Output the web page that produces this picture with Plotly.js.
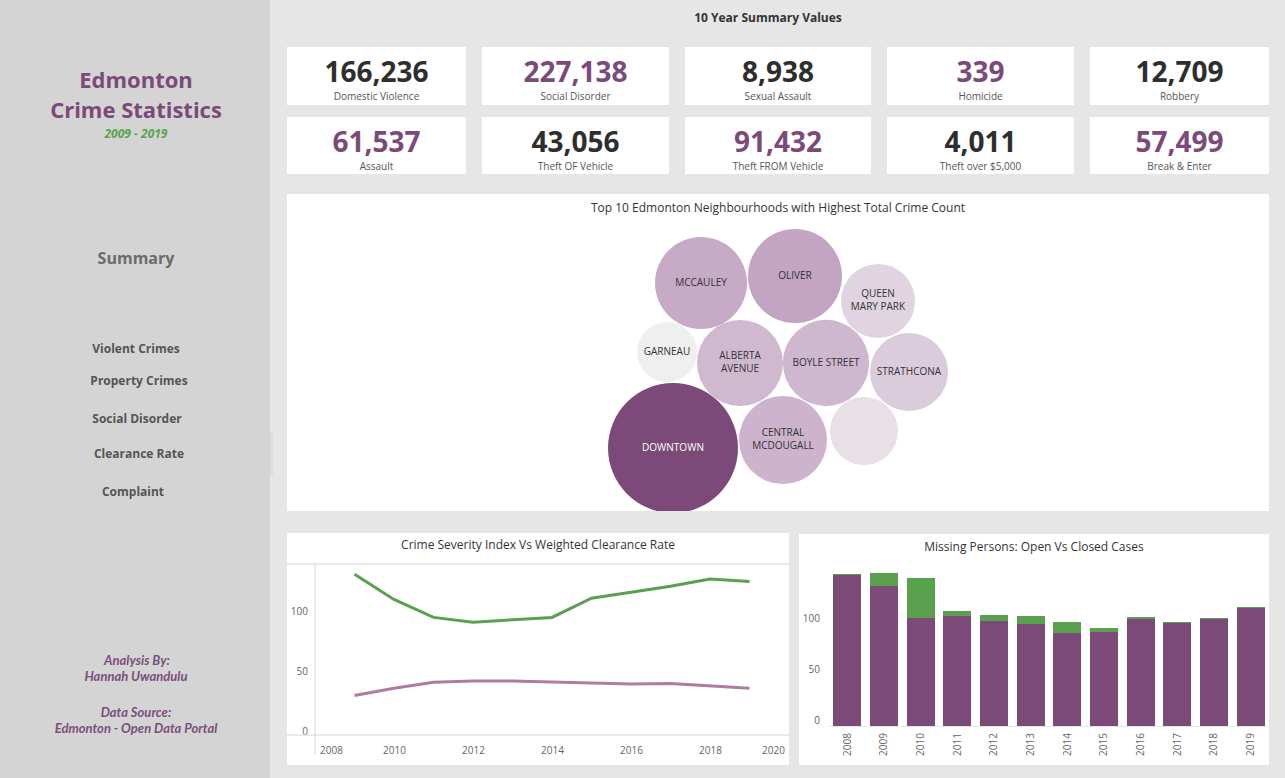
<!DOCTYPE html>
<html><head><meta charset="utf-8">
<script src="https://cdn.plot.ly/plotly-3.0.1.min.js"></script>
<style>
body{margin:0;width:1285px;height:778px;overflow:hidden;background:#e6e6e6;font-family:'Open Sans',sans-serif;position:relative}
#sidebar{position:absolute;left:0;top:0;width:270px;height:778px;background:#d4d4d4}
#tab{position:absolute;left:270px;top:433px;width:3px;height:42px;background:#dcdcdc}
.t{position:absolute;white-space:nowrap;transform:translateX(-50%)}
.card{position:absolute;background:#fff}
.num{position:absolute;left:0;right:0;text-align:center;font-weight:700;font-size:28px;line-height:28px;top:10px}
.lab{position:absolute;left:0;right:0;text-align:center;font-size:10px;line-height:10px;top:44px;color:#555}
.panel{position:absolute;background:#fff}
.cr{font-family:Lato;font-size:13px;line-height:13px;font-style:italic;font-weight:700;color:#7b4f7b}
</style></head>
<body>
<div id="sidebar"></div>
<div id="tab"></div>
<div class="t" style="left:136px;top:68px;font-size:22px;line-height:22px;font-weight:700;color:#7b4a78">Edmonton</div>
<div class="t" style="left:136px;top:98px;font-size:22px;line-height:22px;font-weight:700;color:#7b4a78">Crime Statistics</div>
<div class="t" style="left:136px;top:128px;font-size:12px;line-height:12px;font-weight:700;font-style:italic;color:#5aa14f">2009 - 2019</div>
<div class="t" style="left:136px;top:250px;font-size:16px;line-height:16px;font-weight:700;color:#6b6b6b">Summary</div>
<div class="t" style="left:136px;top:343px;font-size:12px;line-height:12px;font-weight:700;color:#555">Violent Crimes</div>
<div class="t" style="left:139px;top:375px;font-size:12px;line-height:12px;font-weight:700;color:#555">Property Crimes</div>
<div class="t" style="left:137px;top:413px;font-size:12px;line-height:12px;font-weight:700;color:#555">Social Disorder</div>
<div class="t" style="left:139px;top:448px;font-size:12px;line-height:12px;font-weight:700;color:#555">Clearance Rate</div>
<div class="t" style="left:133px;top:486px;font-size:12px;line-height:12px;font-weight:700;color:#555">Complaint</div>
<div class="t cr" style="left:137px;top:654px">Analysis By:</div>
<div class="t cr" style="left:136px;top:670px">Hannah Uwandulu</div>
<div class="t cr" style="left:136px;top:706px">Data Source:</div>
<div class="t cr" style="left:136px;top:722px">Edmonton - Open Data Portal</div>

<div class="t" style="left:768px;top:12px;font-size:12px;line-height:12px;font-weight:700;color:#333">10 Year Summary Values</div>
<div id="cards"></div>

<div class="panel" id="bubble" style="left:287px;top:194px;width:982px;height:317px"></div>
<div class="panel" id="line" style="left:287px;top:533px;width:502px;height:232px"></div>
<div class="panel" id="bars" style="left:799px;top:534px;width:470px;height:231px"></div>

<script>
// ---------- data ----------
const kpiLabels = ['Domestic Violence','Social Disorder','Sexual Assault','Homicide','Robbery',
                   'Assault','Theft OF Vehicle','Theft FROM Vehicle','Theft over $5,000','Break & Enter'];
const kpiValues = [166236,227138,8938,339,12709,61537,43056,91432,4011,57499];

const neighbourhoods = ['DOWNTOWN','OLIVER','MCCAULEY','CENTRAL MCDOUGALL','ALBERTA AVENUE',
                        'BOYLE STREET','STRATHCONA','QUEEN MARY PARK','(unlabelled)','GARNEAU'];
const neighbourhoodLabels = ['DOWNTOWN','OLIVER','MCCAULEY','CENTRAL<br>MCDOUGALL','ALBERTA<br>AVENUE',
                        'BOYLE STREET','STRATHCONA','QUEEN<br>MARY PARK','','GARNEAU'];
const neighbourhoodCrime = [42250,22090,21160,19360,18490,18600,15210,13690,11560,9000];

const csiYears = [2009,2010,2011,2012,2013,2014,2015,2016,2017,2018,2019];
const crimeSeverity = [134,113,98,94,96,98,114,119,124,130,128];
const clearanceRate = [33,39,44,45,45,44,43,42.5,43,41,39];
const lineTickYears = [2008,2010,2012,2014,2016,2018,2020];

const mpYears = ['2008','2009','2010','2011','2012','2013','2014','2015','2016','2017','2018','2019'];
const mpClosed = [149,139,107,109,104,101,92,93,106,102,106,117];
const mpOpen   = [1,12,40,5,6,8,11,4,2,1,1,1];

// ---------- packed-bubble layout (Tableau pack arrangement, plot units) ----------
const packX = [386,508,414,496,453,539,622,591,577,380];
const packY = [254,82,89,246,169,169,178,107,237,158];

// ---------- styles ----------
const PURPLE = '#7b4a78', GREEN = '#59a14f', LPURPLE = '#b07aa1', DARK = '#2e2e2e';
const FONT = 'Open Sans';
const cfg = {staticPlot:true, displayModeBar:false};

// KPI cards
const cardX = [[287,466],[482,669],[685,871],[887,1074],[1090,1269]];
const cardY = [[47,58],[117,57]];
const cards = document.getElementById('cards');
kpiValues.forEach((v,i)=>{
  const r = Math.floor(i/5), c = i%5;
  const d = document.createElement('div');
  d.className='card';
  d.style.left = cardX[c][0]+'px'; d.style.width=(cardX[c][1]-cardX[c][0])+'px';
  d.style.top = cardY[r][0]+'px'; d.style.height = cardY[r][1]+'px';
  const col = ((r+c)%2===0) ? DARK : PURPLE;
  d.innerHTML = '<div class="num" style="color:'+col+'">'+v.toLocaleString('en-US')+'</div>'+
                '<div class="lab">'+kpiLabels[i].replace('&','&amp;')+'</div>';
  cards.appendChild(d);
});

// Bubble chart
const textCols = neighbourhoodCrime.map(v => v > 35000 ? '#ffffff' : '#333333');
Plotly.newPlot('bubble', [{
  type:'scatter', mode:'markers+text',
  x: packX, y: packY,
  text: neighbourhoodLabels, customdata: neighbourhoods,
  textposition:'middle center',
  textfont:{family:FONT, size:10, color:textCols},
  marker:{size: neighbourhoodCrime, sizemode:'area', sizeref:5.0,
          color: neighbourhoodCrime, cmin:9000, cmax:42250,
          colorscale:[[0,'#efefef'],[0.4,'#c3a3c2'],[1,PURPLE]],
          line:{width:0}, opacity:1},
  hoverinfo:'none'
}], {
  width:982, height:317, margin:{l:0,r:0,t:0,b:0},
  paper_bgcolor:'#fff', plot_bgcolor:'#fff', showlegend:false,
  title:{text:'Top 10 Edmonton Neighbourhoods with Highest Total Crime Count',
         font:{family:FONT,size:12,color:'#333'}, x:0.5, xanchor:'center',
         yref:'container', y:1-14/317, yanchor:'middle'},
  xaxis:{range:[0,982], visible:false, fixedrange:true},
  yaxis:{range:[317,0], visible:false, fixedrange:true}
}, cfg);

// Line chart
const LW = 474, LH = 171;
Plotly.newPlot('line', [
  {type:'scatter', mode:'lines', x:csiYears, y:crimeSeverity, name:'Crime Severity Index',
   line:{color:GREEN, width:3}},
  {type:'scatter', mode:'lines', x:csiYears, y:clearanceRate, name:'Weighted Clearance Rate',
   line:{color:LPURPLE, width:3}}
], {
  width:502, height:232, margin:{l:28,r:0,t:31,b:30},
  paper_bgcolor:'#fff', plot_bgcolor:'#fff', showlegend:false,
  title:{text:'Crime Severity Index Vs Weighted Clearance Rate',
         font:{family:FONT,size:12,color:'#333'}, x:0.5, xanchor:'center',
         yref:'container', y:1-12/232, yanchor:'middle'},
  xaxis:{range:[2008,2020], showgrid:false, zeroline:false, showline:false,
         showticklabels:false, ticks:'', fixedrange:true},
  yaxis:{range:[0,142.5], tickvals:[0,50,100], showgrid:false, zeroline:false, showline:false,
         ticks:'', tickfont:{family:FONT,size:10,color:'#666'}, ticklabelshift:-4,
         ticklabelstandoff:6, fixedrange:true},
  shapes:[
    {type:'line', xref:'paper', yref:'paper', x0:-28/LW, x1:1, y0:1, y1:1, line:{color:'#d6d6d6',width:1}},
    {type:'line', xref:'paper', yref:'paper', x0:-28/LW, x1:1, y0:0, y1:0, line:{color:'#d6d6d6',width:1}},
    {type:'line', xref:'paper', yref:'paper', x0:0, x1:0, y0:-20/LH, y1:1, line:{color:'#d6d6d6',width:1}}
  ],
  annotations: lineTickYears.map((yr,i)=>({
    x:yr, xref:'x', y:0, yref:'paper', text:String(yr), showarrow:false,
    xanchor: i===0 ? 'left' : (i===lineTickYears.length-1 ? 'right' : 'center'),
    xshift: i===0 ? 3 : (i===lineTickYears.length-1 ? -2 : 0),
    yanchor:'middle', yshift:-15,
    font:{family:FONT,size:10,color:'#666'}
  }))
}, cfg);

// Bar chart
Plotly.newPlot('bars', [
  {type:'bar', x:mpYears, y:mpClosed, name:'Closed', marker:{color:PURPLE}},
  {type:'bar', x:mpYears, y:mpOpen, name:'Open', marker:{color:GREEN}}
], {
  width:470, height:231, margin:{l:30,r:0,t:32,b:39},
  paper_bgcolor:'#fff', plot_bgcolor:'#fff', showlegend:false,
  barmode:'stack', bargap:0.23,
  title:{text:'Missing Persons: Open Vs Closed Cases',
         font:{family:FONT,size:12,color:'#333'}, x:0.5, xanchor:'center',
         yref:'container', y:1-13/231, yanchor:'middle'},
  xaxis:{type:'category', tickangle:-90, tickfont:{family:FONT,size:10,color:'#666'},
         showgrid:false, zeroline:false, showline:true, linecolor:'#e6e6e6', ticks:'',
         ticklabelstandoff:2, fixedrange:true},
  yaxis:{range:[0,158.4], tickvals:[0,50,100], showgrid:false, zeroline:false, showline:false,
         ticks:'', tickfont:{family:FONT,size:10,color:'#666'}, ticklabelshift:-6,
         ticklabelstandoff:8, fixedrange:true}
}, cfg);
</script>
</body></html>
